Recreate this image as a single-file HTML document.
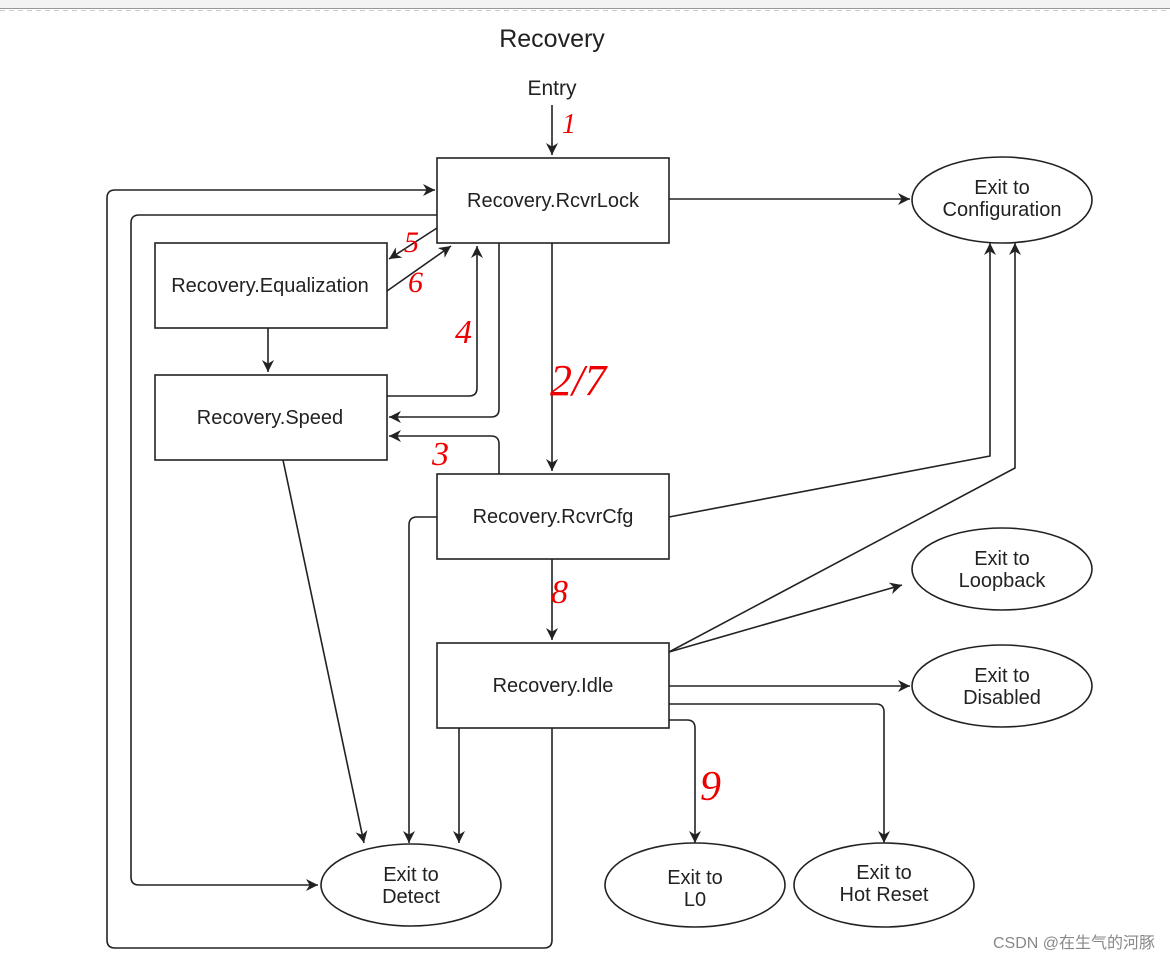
<!DOCTYPE html>
<html><head><meta charset="utf-8"><style>
body{margin:0;background:#fff;width:1170px;height:961px;overflow:hidden;font-family:"Liberation Sans",sans-serif}
svg{position:absolute;left:0;top:0}
</style></head><body>
<svg width="1170" height="961" viewBox="0 0 1170 961" font-family="Liberation Sans, Noto Sans CJK SC, sans-serif">
<defs><marker id="a" viewBox="0 0 10 10" refX="10" refY="5" markerWidth="12" markerHeight="12" markerUnits="userSpaceOnUse" orient="auto"><path d="M0,0 L10,5 L0,10 L3,5z" fill="#222"/></marker></defs>
<rect x="0" y="0" width="1170" height="8" fill="#f3f3f3"/>
<line x1="0" y1="8.5" x2="1170" y2="8.5" stroke="#999"/>
<line x1="0" y1="10.5" x2="1170" y2="10.5" stroke="#ccc" stroke-dasharray="5,4"/>
<text x="552" y="47" font-size="25" text-anchor="middle" fill="#222">Recovery</text>
<text x="552" y="95" font-size="21" text-anchor="middle" fill="#222">Entry</text>
<g fill="none" stroke="#222" stroke-width="1.6">
<rect x="437" y="158" width="232" height="85" fill="#fff"/>
<rect x="155" y="243" width="232" height="85" fill="#fff"/>
<rect x="155" y="375" width="232" height="85" fill="#fff"/>
<rect x="437" y="474" width="232" height="85" fill="#fff"/>
<rect x="437" y="643" width="232" height="85" fill="#fff"/>
<ellipse cx="1002" cy="200" rx="90" ry="43"/>
<ellipse cx="1002" cy="569" rx="90" ry="41"/>
<ellipse cx="1002" cy="686" rx="90" ry="41"/>
<ellipse cx="411" cy="885" rx="90" ry="41"/>
<ellipse cx="695" cy="885" rx="90" ry="42"/>
<ellipse cx="884" cy="885" rx="90" ry="42"/>
<g marker-end="url(#a)">
<path d="M552,105V155"/>
<path d="M669,199H910"/>
<path d="M552,728V940q0,8-8,8H115q-8,0-8-8V198q0-8,8-8H435"/>
<path d="M437,215H139q-8,0-8,8V877q0,8,8,8H318"/>
<path d="M437,228L389,259"/>
<path d="M387,291L451,246"/>
<path d="M268,328V372"/>
<path d="M387,396H469q8,0,8-8V246"/>
<path d="M499,243V409q0,8-8,8H389"/>
<path d="M499,474V444q0-8-8-8H389"/>
<path d="M552,243V471"/>
<path d="M283,460L364,843"/>
<path d="M437,517H417q-8,0-8,8V843"/>
<path d="M459,728V843"/>
<path d="M669,517L990,456V243"/>
<path d="M669,652L1015,468V243"/>
<path d="M669,652L902,585"/>
<path d="M669,686H910"/>
<path d="M669,720H687q8,0,8,8V843"/>
<path d="M669,704H876q8,0,8,8V843"/>
<path d="M552,559V640"/>
</g></g>
<g font-size="20" fill="#222" text-anchor="middle">
<text x="553" y="207">Recovery.RcvrLock</text>
<text x="270" y="292">Recovery.Equalization</text>
<text x="270" y="424">Recovery.Speed</text>
<text x="553" y="523">Recovery.RcvrCfg</text>
<text x="553" y="692">Recovery.Idle</text>
<text x="1002" y="194">Exit to</text><text x="1002" y="216">Configuration</text>
<text x="1002" y="565">Exit to</text><text x="1002" y="587">Loopback</text>
<text x="1002" y="682">Exit to</text><text x="1002" y="704">Disabled</text>
<text x="411" y="881">Exit to</text><text x="411" y="903">Detect</text>
<text x="695" y="884">Exit to</text><text x="695" y="906">L0</text>
<text x="884" y="879">Exit to</text><text x="884" y="901">Hot Reset</text>
</g>
<g fill="#e00" font-family="Liberation Serif, serif" font-style="italic">
<text x="562" y="133" font-size="28">1</text>
<text x="404" y="252" font-size="30">5</text>
<text x="408" y="292" font-size="30">6</text>
<text x="455" y="343" font-size="34">4</text>
<text x="550" y="395" font-size="44">2/7</text>
<text x="432" y="465" font-size="34">3</text>
<text x="551" y="603" font-size="34">8</text>
<text x="700" y="800" font-size="42">9</text>
</g>
<text x="1155" y="948" font-size="16" fill="#888" text-anchor="end">CSDN @在生气的河豚</text>
</svg>
</body></html>
